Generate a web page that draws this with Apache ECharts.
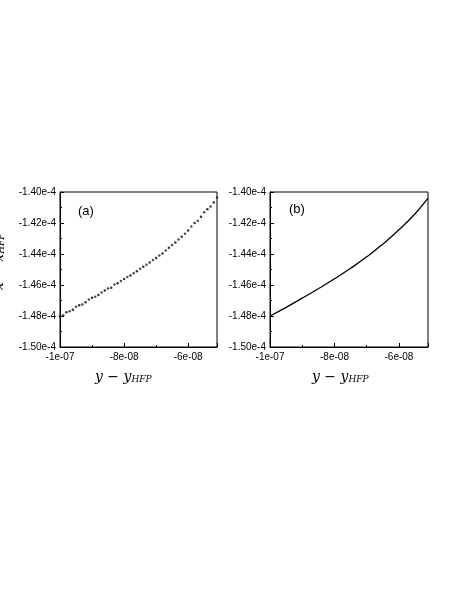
<!DOCTYPE html>
<html><head><meta charset="utf-8">
<script src="https://cdn.jsdelivr.net/npm/echarts@6/dist/echarts.min.js"></script>
<style>html,body{margin:0;background:#fff}#main{width:474px;height:613px}</style>
</head><body><div id="main"></div>
<script>
// x in units of 1e-8, y in units of 1e-4
var scatterX = [-10,-9.8,-9.6,-9.4,-9.2,-9.0,-8.8,-8.6,-8.4,-8.2,-8.0,-7.8,-7.6,-7.4,-7.2,-7.0,-6.8,-6.6,-6.4,-6.2,-6.0,-5.8,-5.6,-5.4,-5.2];
var scatterY = [-1.4802,-1.4776,-1.4759,-1.4730,-1.4712,-1.4682,-1.4665,-1.4636,-1.4617,-1.4588,-1.4562,-1.4538,-1.4512,-1.4483,-1.4455,-1.4425,-1.4396,-1.4360,-1.4325,-1.4288,-1.4248,-1.4200,-1.4160,-1.4112,-1.4068];
var scatterX2 = [-9.9,-9.7,-9.5,-9.3,-9.1,-8.9,-8.7,-8.5,-8.3,-8.1,-7.9,-7.7,-7.5,-7.3,-7.1,-6.9,-6.7,-6.5,-6.3,-6.1,-5.9,-5.7,-5.5,-5.3,-5.1];
var scatterY2 = [-1.4795,-1.4770,-1.4740,-1.4725,-1.4694,-1.4676,-1.4648,-1.4622,-1.4596,-1.4574,-1.4548,-1.4524,-1.4495,-1.4470,-1.4438,-1.4410,-1.4378,-1.4342,-1.4306,-1.4270,-1.4222,-1.4186,-1.4130,-1.4094,-1.4036];
var lineX = [-10,-9.5,-9,-8.5,-8,-7.5,-7,-6.5,-6,-5.5,-5.1];
var lineY = [-1.4800,-1.4744,-1.4685,-1.4624,-1.4560,-1.4492,-1.4418,-1.4336,-1.4244,-1.4140,-1.4040];
var xTickLabels = {'-10':'-1e-07','-8':'-8e-08','-6':'-6e-08'};

function zip(a,b){return a.map(function(v,i){return [v,b[i]];});}
var font = 'Liberation Sans, Arial, sans-serif';
function xAxis(i){return {gridIndex:i,type:'value',min:-10,max:-5.1,interval:2,
  axisLine:{onZero:false,lineStyle:{color:'#000'}},axisTick:{inside:true,length:4,lineStyle:{color:'#000'}},
  minorTick:{show:true,splitNumber:2,length:2,lineStyle:{color:'#000'}},splitLine:{show:false},
  axisLabel:{color:'#000',fontSize:10,fontFamily:font,margin:5,showMaxLabel:false,formatter:function(v){return xTickLabels[String(Math.round(v))]||'';}}};}
function yAxis(i){return {gridIndex:i,type:'value',min:-1.50,max:-1.40,interval:0.02,
  axisLine:{onZero:false,lineStyle:{color:'#000'}},axisTick:{inside:true,length:4,lineStyle:{color:'#000'}},
  minorTick:{show:true,splitNumber:2,length:2,lineStyle:{color:'#000'}},splitLine:{show:false},
  axisLabel:{color:'#000',fontSize:10,fontFamily:font,margin:4,formatter:function(v){return v.toFixed(2)+'e-4';}}};}
var titleRich = {i:{fontFamily:'DejaVu Serif, serif',fontStyle:'italic',fontSize:14,color:'#000'},s:{fontFamily:'DejaVu Serif, serif',fontStyle:'italic',fontSize:9,color:'#000',padding:[6,0,0,0]}};
var chart = echarts.init(document.getElementById('main'));
chart.setOption({
  animation:false,
  grid:[{left:60,top:192,width:157,height:155,show:true,borderColor:'#000',borderWidth:1},
        {left:270,top:192,width:158,height:155,show:true,borderColor:'#000',borderWidth:1}],
  xAxis:[xAxis(0),xAxis(1)],
  yAxis:[yAxis(0),yAxis(1)],
  graphic:[
    {type:'text',left:78,top:205,style:{text:'(a)',font:'13px '+font,fill:'#000'}},
    {type:'text',left:289,top:203,style:{text:'(b)',font:'13px '+font,fill:'#000'}},
    {type:'text',left:95,top:370,style:{text:'{i|y − y}{s|HFP}',rich:titleRich}},
    {type:'text',left:312,top:370,style:{text:'{i|y − y}{s|HFP}',rich:titleRich}},
    {type:'text',x:-1,y:262,rotation:Math.PI/2,style:{text:'{i|x − x}{s|HFP}',rich:titleRich,align:'center',verticalAlign:'middle'}}
  ],
  series:[
    {type:'scatter',xAxisIndex:0,yAxisIndex:0,symbol:'circle',symbolSize:2.5,itemStyle:{color:'#000'},data:zip(scatterX,scatterY)},
    {type:'scatter',xAxisIndex:0,yAxisIndex:0,symbol:'circle',symbolSize:2.5,itemStyle:{color:'#222'},data:zip(scatterX2,scatterY2)},
    {type:'line',xAxisIndex:1,yAxisIndex:1,smooth:true,showSymbol:false,lineStyle:{color:'#000',width:1.3},data:zip(lineX,lineY)}
  ]
});
</script></body></html>
